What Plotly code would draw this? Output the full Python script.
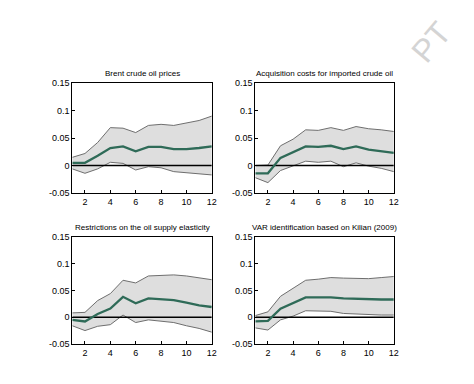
import plotly.graph_objects as go

horizons = list(range(1, 13))
x_ticks = [2, 4, 6, 8, 10, 12]
y_ticks = [-0.05, 0, 0.05, 0.1, 0.15]
y_tick_labels = ["-0.05", "0", "0.05", "0.1", "0.15"]

titles = [
    "Brent crude oil prices",
    "Acquisition costs for imported crude oil",
    "Restrictions on the oil supply elasticity",
    "VAR identification based on Kilian (2009)",
]

brent_median = [0.005, 0.005, 0.018, 0.032, 0.035, 0.026, 0.034, 0.034, 0.030, 0.030, 0.032, 0.035]
brent_upper = [0.015, 0.022, 0.042, 0.069, 0.068, 0.060, 0.073, 0.075, 0.073, 0.078, 0.082, 0.090]
brent_lower = [-0.006, -0.014, -0.006, 0.006, 0.004, -0.008, -0.002, -0.004, -0.011, -0.013, -0.014, -0.017]

acq_median = [-0.014, -0.014, 0.014, 0.025, 0.035, 0.034, 0.036, 0.030, 0.035, 0.029, 0.026, 0.023]
acq_upper = [0.000, 0.001, 0.036, 0.048, 0.065, 0.064, 0.069, 0.064, 0.071, 0.067, 0.065, 0.062]
acq_lower = [-0.022, -0.031, -0.009, -0.001, 0.008, 0.006, 0.008, -0.002, 0.005, -0.001, -0.005, -0.011]

restr_median = [-0.005, -0.008, 0.006, 0.016, 0.038, 0.026, 0.035, 0.033, 0.032, 0.027, 0.022, 0.019]
restr_upper = [0.008, 0.009, 0.031, 0.044, 0.069, 0.064, 0.077, 0.078, 0.079, 0.077, 0.074, 0.070]
restr_lower = [-0.016, -0.025, -0.017, -0.014, 0.004, -0.010, -0.005, -0.008, -0.010, -0.016, -0.021, -0.028]

var_median = [-0.008, -0.007, 0.016, 0.026, 0.037, 0.037, 0.037, 0.035, 0.034, 0.033, 0.033, 0.033]
var_upper = [0.003, 0.010, 0.039, 0.054, 0.069, 0.071, 0.074, 0.073, 0.073, 0.072, 0.074, 0.076]
var_lower = [-0.020, -0.024, -0.005, 0.002, 0.012, 0.012, 0.011, 0.007, 0.006, 0.004, 0.004, 0.004]

panels = [
    (brent_median, brent_upper, brent_lower),
    (acq_median, acq_upper, acq_lower),
    (restr_median, restr_upper, restr_lower),
    (var_median, var_upper, var_lower),
]

# page body has an 8px margin; figure drawn from (8,8)
OFF = 8
W, H = 474 - OFF, 384 - OFF


def fx(px):
    return (px - OFF) / W


def fy(py):
    return 1 - (py - OFF) / H


# plot-area pixel boxes in window coordinates (x0, x1, ytop, ybottom)
boxes = [(73, 214, 80, 193), (258, 398, 80, 193), (73, 214, 238, 348), (258, 398, 238, 348)]

FONT = "Liberation Sans, Arial, sans-serif"
fig = go.Figure()
layout = dict(
    width=W, height=H, margin=dict(l=0, r=0, t=0, b=0),
    paper_bgcolor="white", plot_bgcolor="white", showlegend=False,
    font=dict(family=FONT, size=9, color="black"),
)
annotations = []
for i, ((med, up, lo), (x0, x1, yt, yb)) in enumerate(zip(panels, boxes)):
    n = i + 1
    xa = "x" if n == 1 else f"x{n}"
    ya = "y" if n == 1 else f"y{n}"
    fig.add_trace(go.Scatter(x=horizons, y=lo, xaxis=xa, yaxis=ya, mode="lines",
                             line=dict(color="#6e6e6e", width=1), hoverinfo="skip"))
    fig.add_trace(go.Scatter(x=horizons, y=up, xaxis=xa, yaxis=ya, mode="lines",
                             line=dict(color="#6e6e6e", width=1), fill="tonexty",
                             fillcolor="#dedede", hoverinfo="skip"))
    fig.add_trace(go.Scatter(x=[1, 12], y=[0, 0], xaxis=xa, yaxis=ya, mode="lines",
                             line=dict(color="black", width=1.5), hoverinfo="skip"))
    fig.add_trace(go.Scatter(x=horizons, y=med, xaxis=xa, yaxis=ya, mode="lines",
                             line=dict(color="#2f6b58", width=2.3)))
    xk = "xaxis" if n == 1 else f"xaxis{n}"
    yk = "yaxis" if n == 1 else f"yaxis{n}"
    layout[xk] = dict(domain=[fx(x0), fx(x1)], range=[1, 12], anchor=ya,
                      tickvals=x_ticks, ticks="inside", ticklen=3, tickcolor="black",
                      showgrid=False, zeroline=False, showline=True, linecolor="black",
                      linewidth=0.8, mirror=True, tickfont=dict(size=9))
    layout[yk] = dict(domain=[fy(yb), fy(yt)], range=[-0.05, 0.15], anchor=xa,
                      tickvals=y_ticks, ticktext=y_tick_labels, ticks="inside", ticklen=3,
                      tickcolor="black", showgrid=False, zeroline=False, showline=True,
                      linecolor="black", linewidth=0.8, mirror=True, tickfont=dict(size=9))
    annotations.append(dict(text=titles[i], x=fx((x0 + x1) / 2), y=fy(yt - 3),
                            xref="paper", yref="paper", xanchor="center", yanchor="bottom",
                            showarrow=False, font=dict(size=8, family=FONT)))

annotations.append(dict(text="PT", x=fx(436), y=fy(38), xref="paper", yref="paper",
                        xanchor="center", yanchor="middle",
                        showarrow=False, textangle=-50,
                        font=dict(size=32, color="#d4d4d4", family=FONT)))
layout["annotations"] = annotations
fig.update_layout(**layout)
fig.write_html("out.html")
